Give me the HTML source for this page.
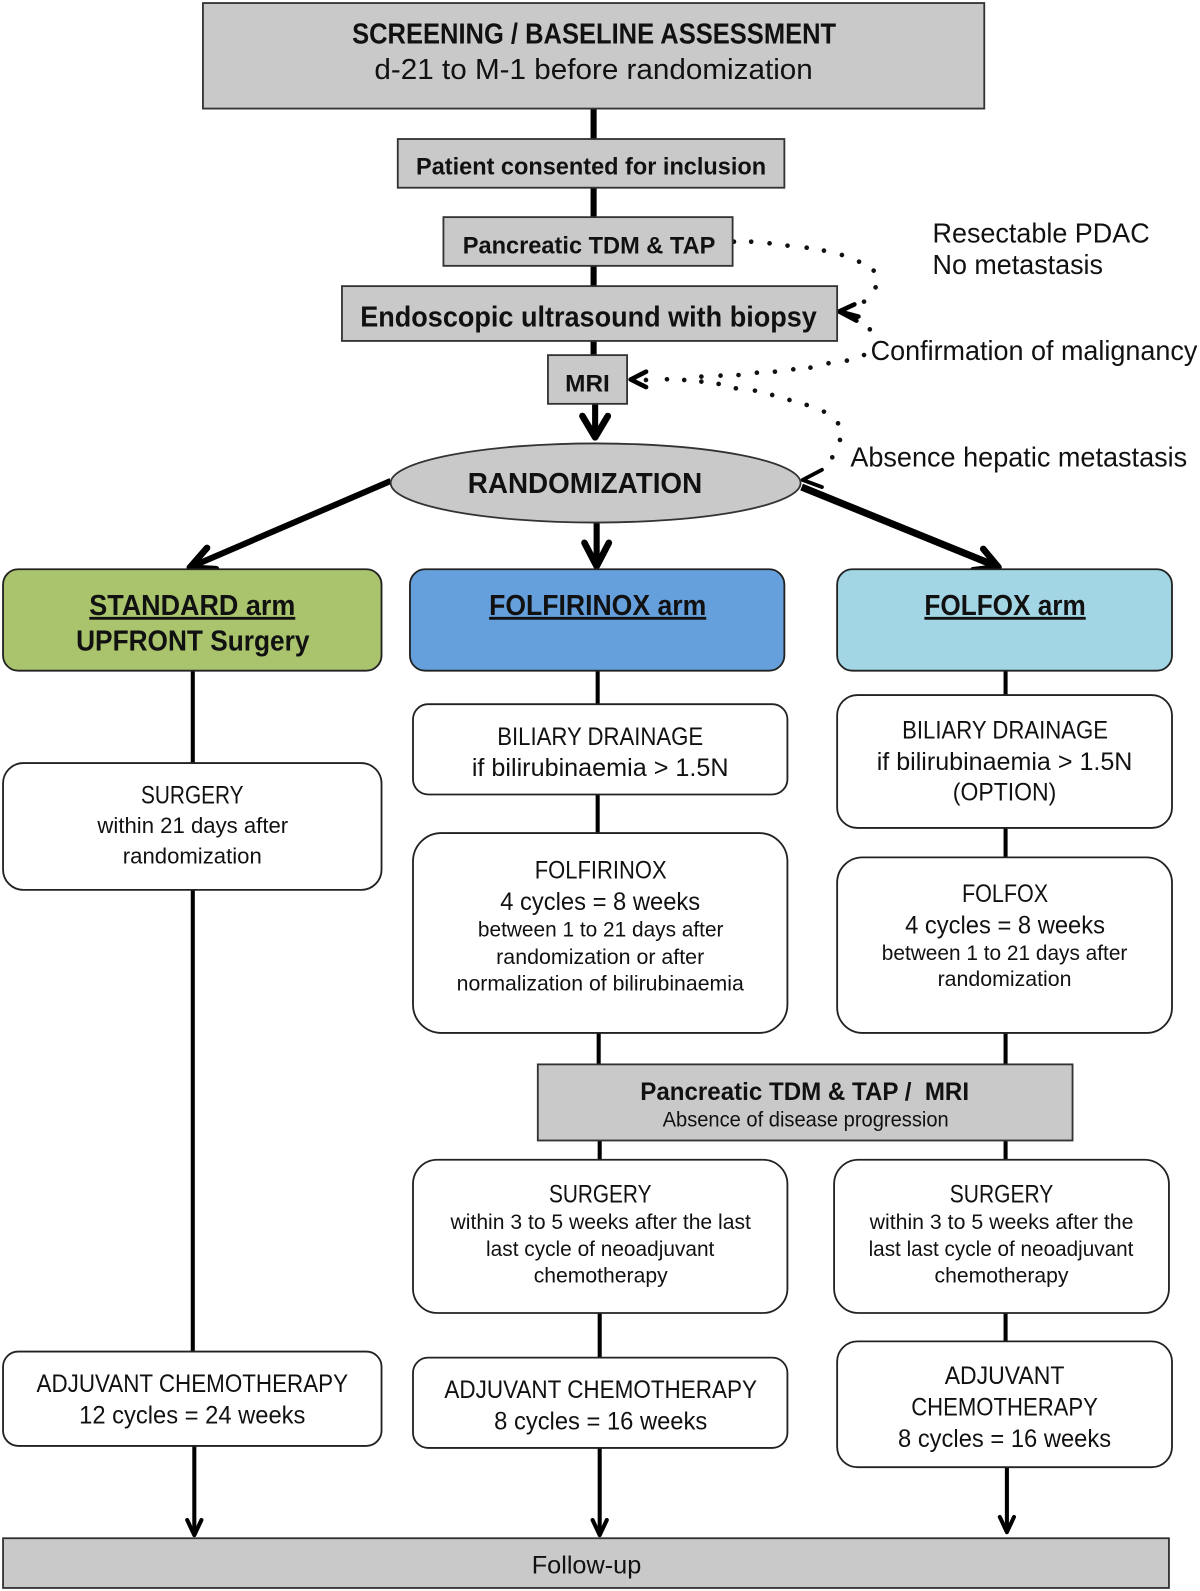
<!DOCTYPE html>
<html><head><meta charset="utf-8">
<style>
html,body{margin:0;padding:0;background:#fff;width:1200px;height:1591px;overflow:hidden}
svg{display:block;filter:blur(0.35px)}
text{font-family:"Liberation Sans",sans-serif;fill:#111}
.g{fill:#c9c9c9;stroke:#333;stroke-width:1.8}
.w{fill:#fff;stroke:#222;stroke-width:1.8}
.c{fill:none;stroke:#000;stroke-width:4}
.t{fill:none;stroke:#000;stroke-width:6}
.h{fill:none;stroke:#000;stroke-linecap:round;stroke-linejoin:round}
.d{fill:none;stroke:#111;stroke-width:4.6;stroke-linecap:round}
.b{font-weight:bold}
</style></head><body>
<svg xmlns="http://www.w3.org/2000/svg" width="1200" height="1591" viewBox="0 0 1182.6 1568" preserveAspectRatio="none">
<!-- connectors -->
<path class="t" d="M585 107V137M585 185V214M585 262V282M585 336V350"/>
<path class="t" d="M586.5 398L586.5 430"/>
<path class="h" stroke-width="6.5" d="M574 410L586.5 431L599 410"/>
<path class="t" d="M385 474L192 557"/>
<path class="h" stroke-width="6.5" d="M204 540L187 559.5L213 561"/>
<path class="t" d="M588 512V556"/>
<path class="h" stroke-width="6.5" d="M576 535L588 558L600 535"/>
<path class="t" d="M790 480L982 558" style="stroke-width:7"/>
<path class="h" stroke-width="6.5" d="M969 541L984 559L959 562"/>
<path class="c" d="M190 661V752M190 877V1332M191.5 1425V1511M589 661V694M589 783V821M590 1018V1049M591 1124V1143M591 1294V1338M591 1427V1512M991 661V685M991 816V845M991 1018V1049M991 1124V1143M991 1294V1322M992.3 1446V1508"/>
<path class="h" stroke-width="4" d="M184.5 1498L191.5 1513L198.5 1498M584 1498L591 1513L598 1498M985.3 1495L992.3 1510L999.3 1495"/>
<!-- dotted -->
<path class="d" d="M723.3 238.2h0M740.3 238.2h0M758.4 239.8h0M776.1 242.1h0M795 244.1h0M812 247h0M829.7 251.3h0M846.6 257.9h0M861 266.7h0M862.9 283.2h0M851.5 297.3h0M857.2 324.6h0M851.5 349.9h0"/>
<path class="d" d="M834.6 355.4h0M816.5 358h0M798.7 362.3h0M781.8 364h0M763.7 366.3h0M745.9 367.3h0M727.8 369.6h0M710.1 370.2h0M691.2 371.2h0M674.3 374.5h0M657.3 373.8h0M636.6 374.5h0"/>
<path class="d" d="M691.2 376.1h0M708.2 378.4h0M725.2 382.7h0M744 385h0M761 389.3h0M778 394.2h0M795 399.1h0M812 405.7h0M825.9 417.2h0M827.8 433.6h0M820.2 450.7h0"/>
<path class="h" stroke-width="4.5" d="M842 300L827 307L844 316M827 307L846 312"/>
<path class="h" stroke-width="4.5" d="M636.7 366.3L621.5 374L636.7 381.5"/>
<path class="h" stroke-width="3.8" d="M810 463L791 473L810 480"/>
<!-- gray boxes -->
<rect class="g" x="200" y="3" width="770" height="104"/>
<rect class="g" x="392" y="137" width="381" height="48"/>
<rect class="g" x="437" y="214" width="285" height="48"/>
<rect class="g" x="337" y="282" width="488" height="54"/>
<rect class="g" x="540" y="350" width="78" height="48"/>
<ellipse class="g" cx="587" cy="476" rx="202" ry="39"/>
<rect class="g" x="530" y="1049" width="527" height="75"/>
<rect class="g" x="3" y="1516" width="1149" height="49"/>
<!-- arm boxes -->
<rect x="3" y="561" width="373" height="100" rx="15" fill="#a9c46c" stroke="#222" stroke-width="1.8"/>
<rect x="404" y="561" width="369" height="100" rx="15" fill="#659fdc" stroke="#222" stroke-width="1.8"/>
<rect x="825" y="561" width="330" height="100" rx="15" fill="#a3d6e5" stroke="#222" stroke-width="1.8"/>
<!-- white boxes -->
<rect class="w" x="407" y="694" width="369" height="89" rx="15"/>
<rect class="w" x="3" y="752" width="373" height="125" rx="20"/>
<rect class="w" x="407" y="821" width="369" height="197" rx="28"/>
<rect class="w" x="825" y="685" width="330" height="131" rx="20"/>
<rect class="w" x="825" y="845" width="330" height="173" rx="25"/>
<rect class="w" x="407" y="1143" width="369" height="151" rx="24"/>
<rect class="w" x="822" y="1143" width="330" height="151" rx="24"/>
<rect class="w" x="3" y="1332" width="373" height="93" rx="15"/>
<rect class="w" x="407" y="1338" width="369" height="89" rx="15"/>
<rect class="w" x="825" y="1322" width="330" height="124" rx="20"/>
<!-- text -->
<text class="b" x="347" y="43" font-size="28" textLength="477" lengthAdjust="spacingAndGlyphs">SCREENING / BASELINE ASSESSMENT</text>
<text x="369" y="78" font-size="28" textLength="432" lengthAdjust="spacingAndGlyphs">d-21 to M-1 before randomization</text>
<text class="b" x="410" y="172" font-size="24" textLength="345" lengthAdjust="spacingAndGlyphs">Patient consented for inclusion</text>
<text class="b" x="456" y="250" font-size="24" textLength="249" lengthAdjust="spacingAndGlyphs">Pancreatic TDM &amp; TAP</text>
<text class="b" x="355" y="322" font-size="28" textLength="450" lengthAdjust="spacingAndGlyphs">Endoscopic ultrasound with biopsy</text>
<text class="b" x="557" y="386" font-size="24" textLength="44" lengthAdjust="spacingAndGlyphs">MRI</text>
<text class="b" x="461" y="486" font-size="28" textLength="231" lengthAdjust="spacingAndGlyphs">RANDOMIZATION</text>
<text class="b" x="88" y="606" font-size="28" textLength="203" lengthAdjust="spacingAndGlyphs" text-decoration="underline">STANDARD arm</text>
<text class="b" x="75" y="641" font-size="28" textLength="230" lengthAdjust="spacingAndGlyphs">UPFRONT Surgery</text>
<text class="b" x="482" y="606" font-size="28" textLength="214" lengthAdjust="spacingAndGlyphs" text-decoration="underline">FOLFIRINOX arm</text>
<text class="b" x="911" y="606" font-size="28" textLength="159" lengthAdjust="spacingAndGlyphs" text-decoration="underline">FOLFOX arm</text>
<text x="490" y="734" font-size="25" textLength="203" lengthAdjust="spacingAndGlyphs">BILIARY DRAINAGE</text>
<text x="465" y="765" font-size="25" textLength="253" lengthAdjust="spacingAndGlyphs">if bilirubinaemia &gt; 1.5N</text>
<text x="139" y="792" font-size="25" textLength="101" lengthAdjust="spacingAndGlyphs">SURGERY</text>
<text x="96" y="821" font-size="22" textLength="188" lengthAdjust="spacingAndGlyphs">within 21 days after</text>
<text x="121" y="851" font-size="22" textLength="137" lengthAdjust="spacingAndGlyphs">randomization</text>
<text x="527" y="866" font-size="25" textLength="130" lengthAdjust="spacingAndGlyphs">FOLFIRINOX</text>
<text x="493" y="897" font-size="25" textLength="197" lengthAdjust="spacingAndGlyphs">4 cycles = 8 weeks</text>
<text x="471" y="923" font-size="21" textLength="242" lengthAdjust="spacingAndGlyphs">between 1 to 21 days after</text>
<text x="489" y="950" font-size="21" textLength="205" lengthAdjust="spacingAndGlyphs">randomization or after</text>
<text x="450" y="976" font-size="21" textLength="283" lengthAdjust="spacingAndGlyphs">normalization of bilirubinaemia</text>
<text x="889" y="728" font-size="25" textLength="203" lengthAdjust="spacingAndGlyphs">BILIARY DRAINAGE</text>
<text x="864" y="759" font-size="25" textLength="252" lengthAdjust="spacingAndGlyphs">if bilirubinaemia &gt; 1.5N</text>
<text x="939" y="789" font-size="25" textLength="102" lengthAdjust="spacingAndGlyphs">(OPTION)</text>
<text x="948" y="889" font-size="25" textLength="85" lengthAdjust="spacingAndGlyphs">FOLFOX</text>
<text x="892" y="920" font-size="25" textLength="197" lengthAdjust="spacingAndGlyphs">4 cycles = 8 weeks</text>
<text x="869" y="946" font-size="21" textLength="242" lengthAdjust="spacingAndGlyphs">between 1 to 21 days after</text>
<text x="924" y="972" font-size="21" textLength="132" lengthAdjust="spacingAndGlyphs">randomization</text>
<text class="b" x="631" y="1084" font-size="25" textLength="324" lengthAdjust="spacingAndGlyphs">Pancreatic TDM &amp; TAP /&#160; MRI</text>
<text x="653" y="1110" font-size="21" textLength="282" lengthAdjust="spacingAndGlyphs">Absence of disease progression</text>
<text x="541" y="1185" font-size="25" textLength="101" lengthAdjust="spacingAndGlyphs">SURGERY</text>
<text x="444" y="1211" font-size="21" textLength="296" lengthAdjust="spacingAndGlyphs">within 3 to 5 weeks after the last</text>
<text x="479" y="1238" font-size="21" textLength="225" lengthAdjust="spacingAndGlyphs">last cycle of neoadjuvant</text>
<text x="526" y="1264" font-size="21" textLength="132" lengthAdjust="spacingAndGlyphs">chemotherapy</text>
<text x="936" y="1185" font-size="25" textLength="102" lengthAdjust="spacingAndGlyphs">SURGERY</text>
<text x="857" y="1211" font-size="21" textLength="260" lengthAdjust="spacingAndGlyphs">within 3 to 5 weeks after the</text>
<text x="856" y="1238" font-size="21" textLength="261" lengthAdjust="spacingAndGlyphs">last last cycle of neoadjuvant</text>
<text x="921" y="1264" font-size="21" textLength="132" lengthAdjust="spacingAndGlyphs">chemotherapy</text>
<text x="36" y="1372" font-size="25" textLength="307" lengthAdjust="spacingAndGlyphs">ADJUVANT CHEMOTHERAPY</text>
<text x="78" y="1403" font-size="25" textLength="223" lengthAdjust="spacingAndGlyphs">12 cycles = 24 weeks</text>
<text x="438" y="1378" font-size="25" textLength="308" lengthAdjust="spacingAndGlyphs">ADJUVANT CHEMOTHERAPY</text>
<text x="487" y="1409" font-size="25" textLength="210" lengthAdjust="spacingAndGlyphs">8 cycles = 16 weeks</text>
<text x="931" y="1364" font-size="25" textLength="118" lengthAdjust="spacingAndGlyphs">ADJUVANT</text>
<text x="898" y="1395" font-size="25" textLength="184" lengthAdjust="spacingAndGlyphs">CHEMOTHERAPY</text>
<text x="885" y="1426" font-size="25" textLength="210" lengthAdjust="spacingAndGlyphs">8 cycles = 16 weeks</text>
<text x="524" y="1551" font-size="25" textLength="108" lengthAdjust="spacingAndGlyphs">Follow-up</text>
<text x="919" y="239" font-size="27" textLength="214" lengthAdjust="spacingAndGlyphs">Resectable PDAC</text>
<text x="919" y="270" font-size="27" textLength="168" lengthAdjust="spacingAndGlyphs">No metastasis</text>
<text x="858" y="355" font-size="27" textLength="322" lengthAdjust="spacingAndGlyphs">Confirmation of malignancy</text>
<text x="838" y="460" font-size="27" textLength="332" lengthAdjust="spacingAndGlyphs">Absence hepatic metastasis</text>
</svg>
</body></html>
